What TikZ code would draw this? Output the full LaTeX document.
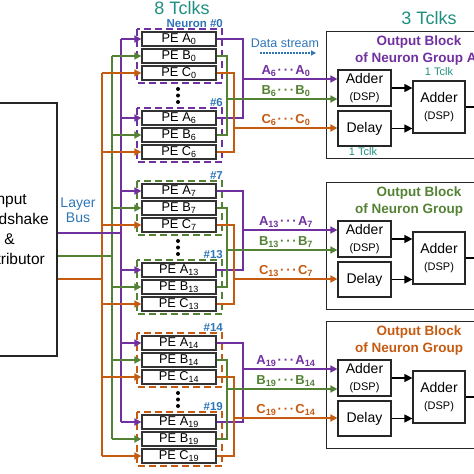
\documentclass[tikz,border=0pt]{standalone}
\usepackage{fontspec}
\setmainfont{Liberation Sans}
\usetikzlibrary{arrows.meta}
\definecolor{cpur}{HTML}{7030A0}
\definecolor{cgrn}{HTML}{548235}
\definecolor{corg}{HTML}{C55A11}
\definecolor{cblu}{HTML}{2E75B6}
\definecolor{ctea}{HTML}{1F8F7F}
\newcommand\tridots{\kern1.2pt·\kern1.8pt·\kern1.8pt·\kern1.2pt}
\begin{document}
\begin{tikzpicture}[x=1pt,y=-1pt,
 wire/.style={line width=1.6pt},
 arr/.style={-{Triangle[length=7pt,width=7pt]}},
 barr/.style={line width=1.2pt,-{Triangle[length=8pt,width=8pt]}},
 pebox/.style={draw=black!80,line width=1.2pt,fill=white,minimum width=74pt,minimum height=14pt,inner sep=0pt,font=\fontsize{12.8}{13}\selectfont},
 nbox/.style={line width=1.3pt,dash pattern=on 7pt off 4pt},
 blk/.style={draw=black!85,line width=1.2pt,fill=white,inner sep=0pt,align=center,font=\fontsize{14}{17}\selectfont},
 nlab/.style={text=cblu,font=\bfseries\fontsize{11.5}{12}\selectfont,anchor=east,inner sep=0pt},
 slab/.style={font=\bfseries\fontsize{13}{14}\selectfont,anchor=base,inner sep=0pt},
 ttl/.style={font=\bfseries\fontsize{13.5}{15}\selectfont,inner sep=0pt},
 big/.style={text=ctea,font=\fontsize{18}{20}\selectfont,inner sep=0pt},
 small/.style={text=ctea,font=\fontsize{11}{12}\selectfont,inner sep=0pt}]
\useasboundingbox (0,0) rectangle (474,474);
\clip (0,0) rectangle (474,474);

% input box
\node[draw=black!85,line width=1.3pt,minimum width=95pt,minimum height=253pt,inner sep=0pt,align=center,font=\fontsize{15.5}{20}\selectfont] (inp) at (9.5,229.5) {Input\\Handshake\\\&\\Distributor};
\node[text=cblu,align=center,font=\fontsize{14}{15}\selectfont,inner sep=0pt] (lb) at (78,210) {Layer\\Bus};

% layer bus
\coordinate (vP) at (121,39); \coordinate (vPe) at (121,422);
\coordinate (vG) at (112,56); \coordinate (vGe) at (112,439);
\coordinate (vO) at (102,73); \coordinate (vOe) at (102,456);
\coordinate (bP) at (121,233); \coordinate (bG) at (112,256); \coordinate (bO) at (102,279);
\draw[wire,cpur] (vP) -- (vPe);
\draw[wire,cgrn] (vG) -- (vGe);
\draw[wire,corg] (vO) -- (vOe);
\draw[wire,cpur] (inp.east |- bP) -- (bP);
\draw[wire,cgrn] (inp.east |- bG) -- (bG);
\draw[wire,corg] (inp.east |- bO) -- (bO);

\foreach \g/\a/\b/\col/\yb/\o/\lab/\L in {1/0/6/cpur/39/0/{Neuron \#0}/{ A}, 2/7/13/cgrn/191/151/{\#7}/{}, 3/14/19/corg/343/290/{\#14}/{}}{
 \draw[nbox,draw=\col] (137,\yb-10) rectangle (222,\yb+44);
 \draw[nbox,draw=\col] (137,\yb+69) rectangle (222,\yb+123);
 \node[nlab] at (223,\yb-15.5) {\lab};
 \node[nlab] at (223,\yb+63.5) {\#\b};
 \node[pebox] (pfA\g) at (179,\yb) {PE A\textsubscript{\a}};
 \node[pebox] (pfB\g) at (179,\yb+17) {PE B\textsubscript{\a}};
 \node[pebox] (pfC\g) at (179,\yb+34) {PE C\textsubscript{\a}};
 \node[pebox] (psA\g) at (179,\yb+79) {PE A\textsubscript{\b}};
 \node[pebox] (psB\g) at (179,\yb+96) {PE B\textsubscript{\b}};
 \node[pebox] (psC\g) at (179,\yb+113) {PE C\textsubscript{\b}};
 \foreach \d in {50,56.5,63} \fill (178,\yb+\d) circle (2pt);
 % left arrows
 \draw[wire,arr,cpur] (vP |- pfA\g.west) -- (pfA\g.west);
 \draw[wire,arr,cgrn] (vG |- pfB\g.west) -- (pfB\g.west);
 \draw[wire,arr,corg] (vO |- pfC\g.west) -- (pfC\g.west);
 \draw[wire,arr,cpur] (vP |- psA\g.west) -- (psA\g.west);
 \draw[wire,arr,cgrn] (vG |- psB\g.west) -- (psB\g.west);
 \draw[wire,arr,corg] (vO |- psC\g.west) -- (psC\g.west);
 % right wiring
 \coordinate (oP\g) at (243,79+\o);
 \coordinate (oG\g) at (227,99+\o);
 \coordinate (oO\g) at (234,128+\o);
 \draw[wire,cpur] (pfA\g.east) -| (oP\g) |- (psA\g.east);
 \draw[wire,cgrn] (pfB\g.east) -| (oG\g) |- (psB\g.east);
 \draw[wire,corg] (pfC\g.east) -| (oO\g) |- (psC\g.east);
 % output block
 \node[draw=black!85,line width=1.2pt,minimum width=164pt,minimum height=127pt,inner sep=0pt,anchor=north west] (ob\g) at (326,31+\o) {};
 \node[ttl,text=\col] at (419,42+\o) {Output Block};
 \node[ttl,text=\col,anchor=west] at (355,59+\o) {of Neuron Group\L};
 \node[blk,minimum width=53pt,minimum height=36pt] (ad\g) at (364.5,88+\o) {Adder\\{\fontsize{11}{13}\selectfont (DSP)}};
 \node[blk,minimum width=53pt,minimum height=35pt] (de\g) at (364.5,128.5+\o) {Delay};
 \node[blk,minimum width=52pt,minimum height=52pt] (ae\g) at (439,107+\o) {Adder\\{\fontsize{11}{13}\selectfont (DSP)}};
 \draw[wire,arr,cpur] (oP\g) -- (oP\g -| ad\g.west);
 \draw[wire,arr,cgrn] (oG\g) -- (oG\g -| ad\g.west);
 \draw[wire,arr,corg] (oO\g) -- (oO\g -| de\g.west);
 \node[slab,text=cpur] at (286,74.5+\o) {A\textsubscript{\b}\tridots A\textsubscript{\a}};
 \node[slab,text=cgrn] at (286,94.5+\o) {B\textsubscript{\b}\tridots B\textsubscript{\a}};
 \node[slab,text=corg] at (286,123+\o) {C\textsubscript{\b}\tridots C\textsubscript{\a}};
 \draw[barr] (ad\g.east) -- (ad\g.east -| ae\g.west);
 \draw[barr] (de\g.east) -- (de\g.east -| ae\g.west);
 \coordinate (out\g) at (490,107+\o);
 \draw[line width=1.2pt] (ae\g.east) -- (out\g);
}

\node[big] (t8) at (182,8) {8 Tclks};
\node[big] (t3) at (429,18) {3 Tclks};
\node[small] (tc1) at (439,72) {1 Tclk};
\node[small] (tc2) at (363,152) {1 Tclk};
\node[text=cblu,font=\fontsize{12.5}{13}\selectfont,inner sep=0pt] (ds) at (285,43) {Data stream};
\coordinate (dsa) at (260,53); \coordinate (dsb) at (316,53);
\draw[cblu,line width=1.2pt,dash pattern=on 1.5pt off 1.5pt,-{Triangle[length=5pt,width=5pt]}] (dsa) -- (dsb);
\end{tikzpicture}
\end{document}
